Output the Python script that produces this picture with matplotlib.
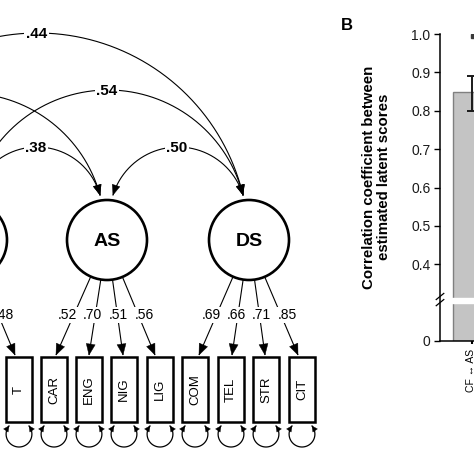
import numpy as np
import matplotlib
matplotlib.use('Agg')
import matplotlib.pyplot as plt
from matplotlib.patches import Circle, Rectangle, Polygon

plt.rcParams['font.family'] = ['Liberation Sans', 'DejaVu Sans']

# ---------------- data ----------------
factor_names = ['AS', 'DS']
indicator_names = ['T', 'CAR', 'ENG', 'NIG', 'LIG', 'COM', 'TEL', 'STR', 'CIT']
loadings = ['.48', '.52', '.70', '.51', '.56', '.69', '.66', '.71', '.85']
cov_values = ['.44', '.54', '.38', '.50', '']
bar_labels = ['CF ↔ AS']
bar_values = [0.85]
bar_ci_low = [0.80]
bar_ci_high = [0.89]
y_ticks = [0.2, 0.4, 0.5, 0.6, 0.7, 0.8, 0.9, 1.0]   # 0.2 position carries the "0" of the broken axis
y_tick_labels = ['0', '0.4', '0.5', '0.6', '0.7', '0.8', '0.9', '1.0']

# ---------------- layout ----------------
W = H = 474
fig = plt.figure(figsize=(W / 100, H / 100), dpi=100)
ax = fig.add_axes([0, 0, 1, 1])
ax.set_xlim(0, W)
ax.set_ylim(H, 0)
ax.axis('off')


def head(tip, d, L=10.0, Wd=8.0, z=5):
    d = np.asarray(d, float)
    d = d / np.hypot(*d)
    tip = np.asarray(tip, float)
    base = tip - d * L
    perp = np.array([-d[1], d[0]])
    pts = [tip, base + perp * Wd / 2, base - perp * Wd / 2]
    ax.add_patch(Polygon(pts, closed=True, fc='black', ec='black', lw=0.3, zorder=z))


# factor circles
R = 40
fy = 240
f_x = {'F1': -175, 'F2': -33, 'AS': 107, 'DS': 249}
for key in ['F2', 'AS', 'DS']:
    ax.add_patch(Circle((f_x[key], fy), R, fc='white', ec='black', lw=1.9, zorder=3))
for name in factor_names:
    ax.text(f_x[name], fy + 1, name, fontsize=14, fontweight='bold', ha='center', va='center', zorder=4)

# indicators
box_cx = [19, 54, 89, 124, 160, 195, 231, 266, 302]
parents = ['F2', 'AS', 'AS', 'AS', 'AS', 'DS', 'DS', 'DS', 'DS']
tip_x = [15, 56, 89, 123, 155, 199, 232, 265, 298]
lab_x = [4, 67.5, 92.5, 118.5, 144.5, 211, 236, 261, 287]
bw, btop, bh = 26, 357, 65
tip_y = 355
for i, name in enumerate(indicator_names):
    cx = box_cx[i]
    ax.add_patch(Rectangle((cx - bw / 2, btop), bw, bh, fc='white', ec='black', lw=1.8, zorder=3))
    ax.text(cx, btop + bh / 2, name, rotation=90, fontsize=9.5, ha='center', va='center', zorder=4)
    # loading arrow
    c = np.array([f_x[parents[i]], fy], float)
    t = np.array([tip_x[i], tip_y], float)
    d = (t - c) / np.hypot(*(t - c))
    s = c + d * R
    ax.plot([s[0], t[0]], [s[1], t[1]], color='black', lw=0.8, zorder=2, solid_capstyle='butt')
    head(t, d, L=11, Wd=9)
    ax.text(lab_x[i], 315, loadings[i], fontsize=10, ha='center', va='center', zorder=4,
            bbox=dict(fc='white', ec='none', pad=0.6))
    # residual self loop
    r = 12.9
    lcy = 434.1
    th1 = np.arctan2(-8.1, 10.0)
    th0 = np.pi - th1
    th = np.linspace(th1, th0, 60)
    lx = cx + r * np.cos(th)
    ly = lcy + r * np.sin(th)
    ax.plot(lx, ly, color='black', lw=0.9, zorder=2)
    head((lx[0], ly[0]), (lx[0] - lx[2], ly[0] - ly[2]), L=5.5, Wd=5.5)
    head((lx[-1], ly[-1]), (lx[-1] - lx[-3], ly[-1] - ly[-3]), L=5.5, Wd=5.5)

# covariance arcs (circular arches between factor tops)
arc_specs = [(-168, 243, 33), (-27, 243, 90), (-26, 100, 147), (113, 243, 147), (-168, 100, 93)]
yb = 195
for (x0, x1, ya), lab in zip(arc_specs, cov_values):
    s = (x1 - x0) / 2
    h = yb - ya
    Rr = (s * s + h * h) / (2 * h)
    xm = (x0 + x1) / 2
    cy = ya + Rr
    th1 = np.arctan2(h - Rr, s)
    th0 = -np.pi - th1
    th = np.linspace(th0, th1, 400)
    px = xm + Rr * np.cos(th)
    py = cy + Rr * np.sin(th)
    ax.plot(px, py, color='black', lw=0.8, zorder=2)
    head((px[-1], py[-1]), (px[-1] - px[-4], py[-1] - py[-4]), L=10, Wd=8)
    head((px[0], py[0]), (px[0] - px[3], py[0] - py[3]), L=10, Wd=8)
    if lab:
        ax.text(xm - 1, ya + 1, lab, fontsize=11, fontweight='bold', ha='center', va='center', zorder=4,
                bbox=dict(fc='white', ec='none', pad=1.2))

# ---------------- panel B ----------------
fig.text(347 / W, 1 - 25 / H, 'B', fontsize=12, fontweight='bold', ha='center', va='center')
fig.text(376.5 / W, 1 - 177 / H, 'Correlation coefficient between\nestimated latent scores', rotation=90,
         fontsize=10.8, fontweight='bold', ha='center', va='center', multialignment='center', linespacing=1.12)

axb = fig.add_axes([440 / W, (H - 341) / H, 126 / W, (341 - 34) / H])
axb.set_facecolor('none')
xb = np.arange(len(bar_labels))
vals = np.array(bar_values)
axb.bar(xb, vals - 0.2, bottom=0.2, width=0.59, color='#c4c4c4', edgecolor='#808080', linewidth=1.0, zorder=2)
yerr = [vals - np.array(bar_ci_low), np.array(bar_ci_high) - vals]
axb.errorbar(xb, vals, yerr=yerr, fmt='none', ecolor='#1a1a1a', elinewidth=1.4, capsize=3.5, capthick=1.4, zorder=3)
axb.plot([0.02], [0.995], marker='s', ms=3.5, color='#3a3a3a', zorder=3)
axb.set_xlim(-0.5, 1.5)
axb.set_ylim(0.2, 1.0)
axb.set_yticks(y_ticks)
axb.set_yticklabels(y_tick_labels, fontsize=10, color='#1a1a1a')
axb.set_xticks(xb)
axb.set_xticklabels(bar_labels, rotation=90, fontsize=7.5)
for sp in ['top', 'right']:
    axb.spines[sp].set_visible(False)
for sp in ['left', 'bottom']:
    axb.spines[sp].set_linewidth(1.1)
    axb.spines[sp].set_zorder(4)
axb.tick_params(axis='y', direction='out', length=4, width=1, pad=3)
axb.tick_params(axis='x', direction='out', length=2.5, width=1.5, pad=3)
# axis break
axb.axhspan(0.299, 0.313, xmin=0.02, xmax=1, color='white', zorder=3.5)
for yc in [0.300, 0.316]:
    axb.plot([-0.56, -0.44], [yc - 0.008, yc + 0.008], color='black', lw=0.9, clip_on=False, zorder=5)

fig.savefig('out.png', dpi=100)
